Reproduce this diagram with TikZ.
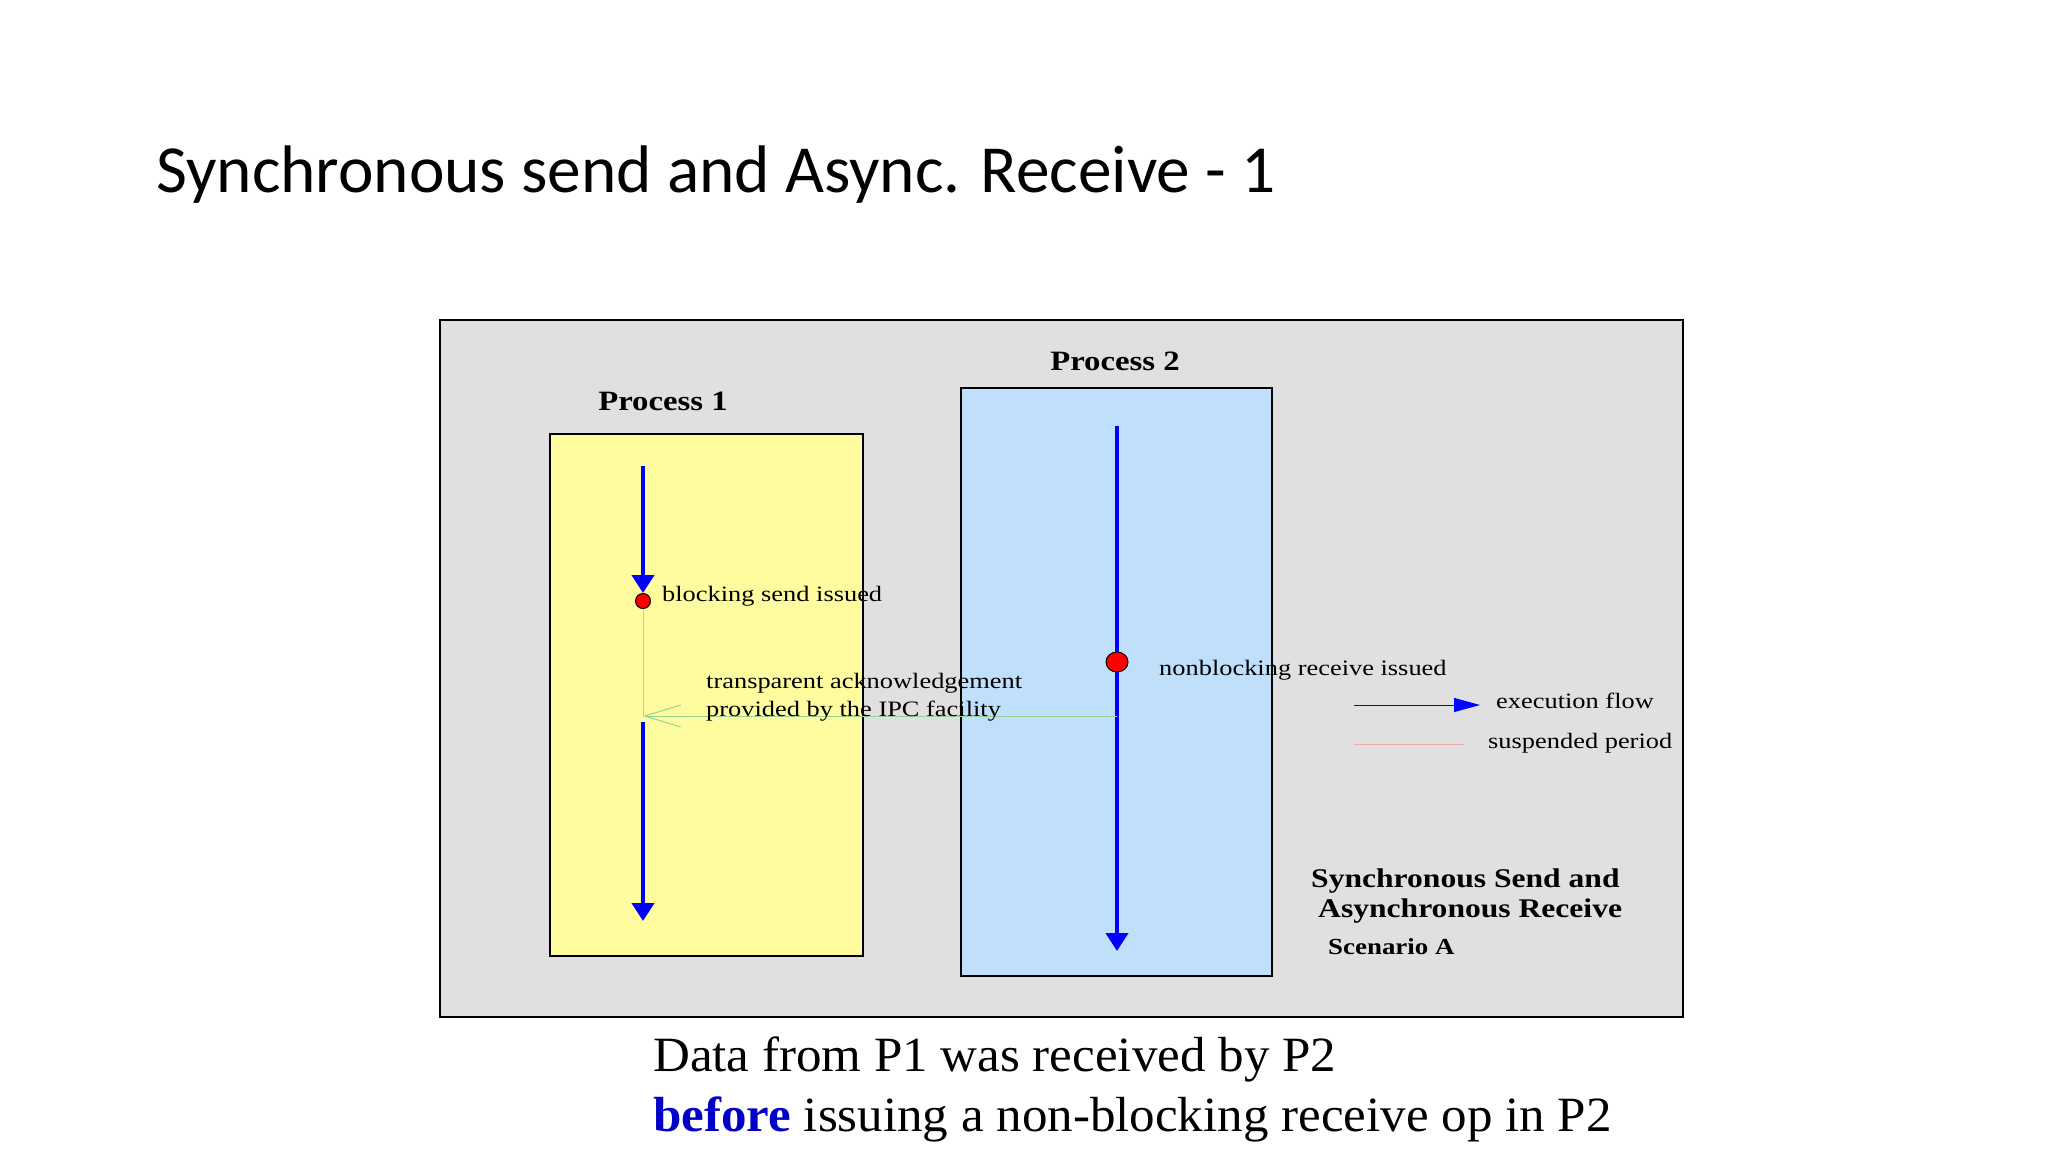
\documentclass[tikz,border=0pt]{standalone}
\usepackage{fontspec}
\setmainfont{Liberation Serif}
\newfontfamily\diag[FakeStretch=1.2]{Liberation Serif}
\newfontfamily\diagb[FakeStretch=1.17]{Liberation Serif}
\newfontfamily\capfont[FakeStretch=1.035]{Liberation Serif}
\newfontfamily\titlefont{Carlito}
\usetikzlibrary{arrows.meta,shapes.geometric}
\definecolor{panelgray}{RGB}{224,224,224}
\definecolor{procyellow}{RGB}{255,252,160}
\definecolor{procblue}{RGB}{191,223,250}
\definecolor{flowblue}{RGB}{0,0,255}
\definecolor{ackgreen}{RGB}{150,210,150}
\definecolor{susppink}{RGB}{240,175,165}
\definecolor{beforeblue}{RGB}{0,0,200}
\tikzset{
  lbl/.style={inner sep=0pt,anchor=base west,font=\diag\fontsize{22}{26}\selectfont},
  blbl/.style={inner sep=0pt,anchor=base,font=\diagb\bfseries\fontsize{28}{32}\selectfont},
  caplbl/.style={inner sep=0pt,anchor=base west,font=\diagb\bfseries\fontsize{27}{32}\selectfont},
  flow/.style={draw=flowblue,line width=4pt,-{Triangle[length=18pt,width=22pt]}},
  dot/.style={draw=black,line width=1pt,fill=red,inner sep=0pt},
  procbox/.style={draw=black,line width=1.6pt,inner sep=0pt}
}
\begin{document}
\begin{tikzpicture}[x=1pt,y=-1pt]
\useasboundingbox[fill=white] (0,0) rectangle (2048,1152);
% title
\node[inner sep=0pt,anchor=base west,font=\titlefont\fontsize{67.3}{80}\selectfont] (title) at (156,192) {Synchronous send and Async. Receive - 1};
% panel
\draw[fill=panelgray,draw=black,line width=2pt] (440,320) rectangle (1683,1017);
\path[procbox,fill=procyellow] (550,434) rectangle (863,956);
\path[procbox,fill=procblue] (961,388) rectangle (1272,976);
\node[blbl] (p1) at (663,410) {Process 1};
\node[blbl] (p2) at (1115,370) {Process 2};
% process 1
\coordinate (p1top) at (643,466);
\node[dot,circle,minimum size=15pt] (d1) at (643,601) {};
\coordinate (p1ack) at (643,716);
\coordinate (p1mid) at (643,722);
\coordinate (p1end) at (643,921);
\draw[flow] (p1top) -- (d1.north);
\draw[susppink,line width=1pt] (d1.south) -- (p1ack);
\draw[flow] (p1mid) -- (p1end);
% process 2
\coordinate (p2top) at (1117,426);
\coordinate (p2end) at (1117,951);
\coordinate (p2ack) at (1117,716);
\draw[flow] (p2top) -- (p2end);
\node[dot,ellipse,minimum width=22pt,minimum height=20pt] (d2) at (1117,662) {};
% acknowledgement
\draw[ackgreen,line width=1pt,-{Straight Barb[length=36pt,width=22pt,line width=1pt]}] (p2ack) -- (p1ack);
% labels
\node[lbl] (bs) at (662,601) {blocking send issued};
\node[lbl] (ack1) at (706,688) {transparent acknowledgement};
\node[lbl] (ack2) at (706,716) {provided by the IPC facility};
\node[lbl] (nb) at (1159,675) {nonblocking receive issued};
% legend
\coordinate (lg1a) at (1354,705);
\coordinate (lg1b) at (1480,705);
\draw[flowblue,line width=1pt,-{Triangle[length=26pt,width=14pt]}] (lg1a) -- (lg1b);
\node[lbl] (ef) at (1496,708) {execution flow};
\coordinate (lg2a) at (1354,744);
\coordinate (lg2b) at (1464,744);
\draw[susppink,line width=1pt] (lg2a) -- (lg2b);
\node[lbl] (sp) at (1488,748) {suspended period};
% caption in panel
\node[caplbl] (c1) at (1311,887) {Synchronous Send and};
\node[caplbl] (c2) at (1318,917) {Asynchronous Receive};
\node[caplbl,font=\diagb\bfseries\fontsize{23}{26}\selectfont] (c3) at (1328,954) {Scenario A};
% bottom text
\node[inner sep=0pt,anchor=base west,font=\capfont\fontsize{49.3}{58}\selectfont] (b1) at (653,1071) {Data from P1 was received by P2};
\node[inner sep=0pt,anchor=base west,font=\capfont\fontsize{49.3}{58}\selectfont] (b2) at (653,1131) {\textcolor{beforeblue}{\textbf{before}} issuing a non-blocking receive op in P2};
\end{tikzpicture}
\end{document}
